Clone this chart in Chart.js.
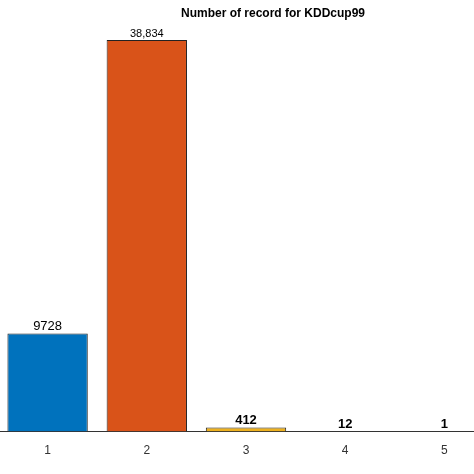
<!DOCTYPE html>
<html>
<head>
<script src="https://cdn.jsdelivr.net/npm/chart.js@4"></script>
<style>
  body { margin: 0; overflow: hidden; background: #fff; width: 474px; height: 474px; }
  #wrap { position: absolute; left: -2px; top: 0; width: 496px; height: 474px; }
</style>
</head>
<body>
<div id="wrap"><canvas id="barChart"></canvas></div>
<script>
const categories = ["1", "2", "3", "4", "5"];
const counts = [9728, 38834, 412, 12, 1];
const valueLabels = ["9728", "38,834", "412", "12", "1"];
const colors = ["#0072BD", "#D95319", "#EDB120", "#7E2F8E", "#77AC30"];

const labelPlugin = {
  id: "labels",
  afterDatasetsDraw(chart) {
    const ctx = chart.ctx;
    const meta = chart.getDatasetMeta(0);
    ctx.save();
    ctx.fillStyle = "#000";
    ctx.textAlign = "center";
    ctx.textBaseline = "bottom";
    meta.data.forEach((bar, i) => {
      ctx.font = i === 0 ? "13px Arial" : (i === 1 ? "11px 'Liberation Sans Narrow', Arial" : "bold 13px 'Liberation Sans Narrow', Arial");
      ctx.fillText(valueLabels[i], bar.x, bar.y - 1);
    });
    ctx.font = "bold 12px 'Liberation Sans Narrow', Arial";
    ctx.textBaseline = "middle";
    ctx.fillText("Number of record for KDDcup99", chart.chartArea.left + 275, 14);
    ctx.restore();
  }
};

new Chart(document.getElementById("barChart"), {
  type: "bar",
  data: {
    labels: categories,
    datasets: [{
      data: counts,
      backgroundColor: colors,
      borderColor: "#222",
      borderWidth: 1,
      barPercentage: 0.81,
      categoryPercentage: 1
    }]
  },
  options: {
    responsive: true,
    maintainAspectRatio: false,
    animation: false,
    layout: { padding: { top: 40, left: 0, right: 0, bottom: 4 } },
    plugins: { legend: { display: false }, tooltip: { enabled: false } },
    scales: {
      x: {
        grid: { display: false, drawTicks: false },
        border: { display: true, color: "#333" },
        ticks: { color: "#333", font: { size: 12, family: "'Liberation Sans Narrow', Arial" }, padding: 12 }
      },
      y: { display: false, min: 0, max: 38834 }
    }
  },
  plugins: [labelPlugin]
});
</script>
</body>
</html>
